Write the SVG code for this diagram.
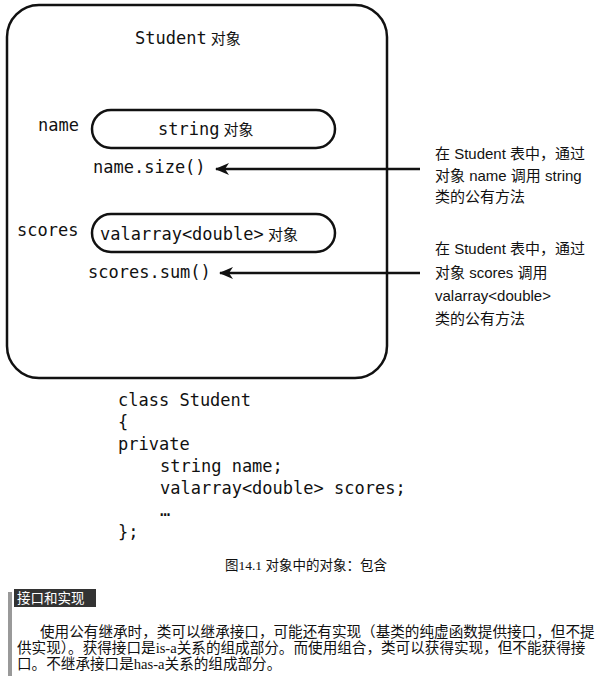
<svg xmlns="http://www.w3.org/2000/svg" width="612" height="681" viewBox="0 0 612 681">
<style>
.m{font-family:"DejaVu Sans Mono","Liberation Mono",monospace;font-size:17px;fill:#111}
.c{font-family:"Liberation Sans","Noto Sans CJK SC",sans-serif;font-size:15px;fill:#111}
.s{font-family:"Liberation Serif","Noto Sans CJK SC",serif;font-size:13.5px;fill:#111}
.p{font-size:14.6px}
.box{fill:none;stroke:#111;stroke-width:2.5}
.ln{stroke:#111;stroke-width:2.5;fill:none}
</style>
<defs><marker id="a" markerWidth="14" markerHeight="12" refX="13" refY="6" orient="auto" markerUnits="userSpaceOnUse"><path d="M0,0 L14,6 L0,12 L4,6Z" fill="#111"/></marker></defs>
<rect width="612" height="681" fill="#fff"/>
<g id="student"><rect class="box" x="7" y="5" width="380" height="373" rx="32"/>
<text class="m" x="135" y="44">Student<tspan class="c"> 对象</tspan></text></g>
<g id="name"><text class="m" x="38" y="131">name</text>
<rect class="box" x="92" y="110" width="243" height="38" rx="19"/>
<text class="m" x="158" y="135">string<tspan class="c"> 对象</tspan></text>
<text class="m" x="93" y="173">name.size()</text></g>
<g id="scores"><text class="m" x="17" y="236">scores</text>
<rect class="box" x="92" y="214" width="243" height="38" rx="19"/>
<text class="m" x="100" y="240">valarray&lt;double&gt;<tspan class="c"> 对象</tspan></text>
<text class="m" x="88" y="278">scores.sum()</text></g>
<g id="connectors">
<line class="ln" x1="420" y1="169" x2="216" y2="169" marker-end="url(#a)"/>
<line class="ln" x1="420" y1="273" x2="220" y2="273" marker-end="url(#a)"/>
</g>
<g id="notes">
<text class="c" x="435" y="159">在 Student 表中，通过</text>
<text class="c" x="435" y="181">对象 name 调用 string</text>
<text class="c" x="435" y="202">类的公有方法</text>
<text class="c" x="435" y="254">在 Student 表中，通过</text>
<text class="c" x="435" y="278">对象 scores 调用</text>
<text class="c" x="435" y="301">valarray&lt;double&gt;</text>
<text class="c" x="435" y="324">类的公有方法</text>
</g>
<g id="code" class="m">
<text x="118" y="406">class Student</text>
<text x="118" y="428">{</text>
<text x="118" y="450">private</text>
<text x="160" y="472">string name;</text>
<text x="160" y="494">valarray&lt;double&gt; scores;</text>
<text x="160" y="516">…</text>
<text x="118" y="538">};</text>
</g>
<text class="s" x="306" y="570" text-anchor="middle">图14.1 对象中的对象：包含</text>
<g id="sidebar">
<rect x="8" y="592" width="4" height="84" fill="#999"/>
<rect x="14" y="589" width="82" height="18" fill="#333"/>
<text class="s" x="17" y="603" style="fill:#fff">接口和实现</text>
<text class="s p" x="40" y="637">使用公有继承时，类可以继承接口，可能还有实现（基类的纯虚函数提供接口，但不提</text>
<text class="s p" x="17" y="653">供实现）。获得接口是is-a关系的组成部分。而使用组合，类可以获得实现，但不能获得接</text>
<text class="s p" x="17" y="669">口。不继承接口是has-a关系的组成部分。</text>
</g>
</svg>
